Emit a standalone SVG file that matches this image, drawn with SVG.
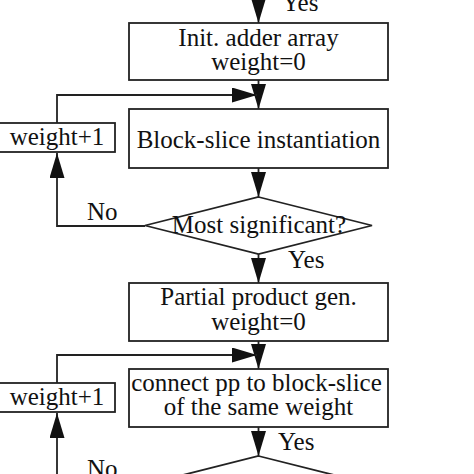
<svg xmlns="http://www.w3.org/2000/svg" width="474" height="474" viewBox="0 0 474 474">
<style>
.box{fill:#fff;stroke:#222;stroke-width:1.8}
.ln{fill:none;stroke:#222;stroke-width:1.8}
text{font-family:"Liberation Serif","Times New Roman",serif;font-size:25px;fill:#111}
.c{text-anchor:middle}
</style>
<defs>
<marker id="ah" markerUnits="userSpaceOnUse" markerWidth="26" markerHeight="16" refX="25" refY="7.5" orient="auto">
<path d="M0,0 L25,7.5 L0,15 z" fill="#111"/>
</marker>
</defs>
<rect width="474" height="474" fill="#fff"/>
<g id="connectors">
<line class="ln" x1="258.5" y1="-5" x2="258.5" y2="23" marker-end="url(#ah)"/>
<line class="ln" x1="258.5" y1="80" x2="258.5" y2="109" marker-end="url(#ah)"/>
<polyline class="ln" points="57,123 57,95 257,95" marker-end="url(#ah)"/>
<line class="ln" x1="258.5" y1="168" x2="258.5" y2="197" marker-end="url(#ah)"/>
<polyline class="ln" points="145,226 57,226 57,153" marker-end="url(#ah)"/>
<line class="ln" x1="258.5" y1="254" x2="258.5" y2="283" marker-end="url(#ah)"/>
<line class="ln" x1="258.5" y1="341" x2="258.5" y2="369" marker-end="url(#ah)"/>
<polyline class="ln" points="57,383 57,355 257,355" marker-end="url(#ah)"/>
<line class="ln" x1="258.5" y1="427" x2="258.5" y2="456" marker-end="url(#ah)"/>
<polyline class="ln" points="145,485 57,485 57,413" marker-end="url(#ah)"/>
<text x="282" y="11">Yes</text>
<text x="87" y="220">No</text>
<text x="288" y="268">Yes</text>
<text x="278" y="450">Yes</text>
<text x="87" y="477">No</text>
</g>
<g id="init">
<rect class="box" x="129" y="23" width="259" height="57"/>
<text class="c" x="258.5" y="46">Init. adder array</text>
<text class="c" x="258.5" y="70">weight=0</text>
</g>
<g id="inc1">
<rect class="box" x="-2" y="123" width="117" height="29"/>
<text class="c" x="57" y="145">weight+1</text>
</g>
<g id="blockslice">
<rect class="box" x="129" y="109" width="259" height="59"/>
<text class="c" x="258.5" y="148">Block-slice instantiation</text>
</g>
<g id="decision1">
<polygon class="box" points="258.5,197 372,225.5 258.5,254 145,225.5"/>
<text class="c" x="259" y="233">Most significant?</text>
</g>
<g id="ppgen">
<rect class="box" x="129" y="283" width="259" height="58"/>
<text class="c" x="258.5" y="305">Partial product gen.</text>
<text class="c" x="258.5" y="330">weight=0</text>
</g>
<g id="inc2">
<rect class="box" x="-2" y="383" width="117" height="29"/>
<text class="c" x="57" y="405">weight+1</text>
</g>
<g id="connect">
<rect class="box" x="129" y="369" width="259" height="58"/>
<text class="c" x="256.5" y="391">connect pp to block-slice</text>
<text class="c" x="258.5" y="415">of the same weight</text>
</g>
<g id="decision2">
<polygon class="box" points="258.5,456 372,484.5 258.5,513 145,484.5"/>
</g>
</svg>
